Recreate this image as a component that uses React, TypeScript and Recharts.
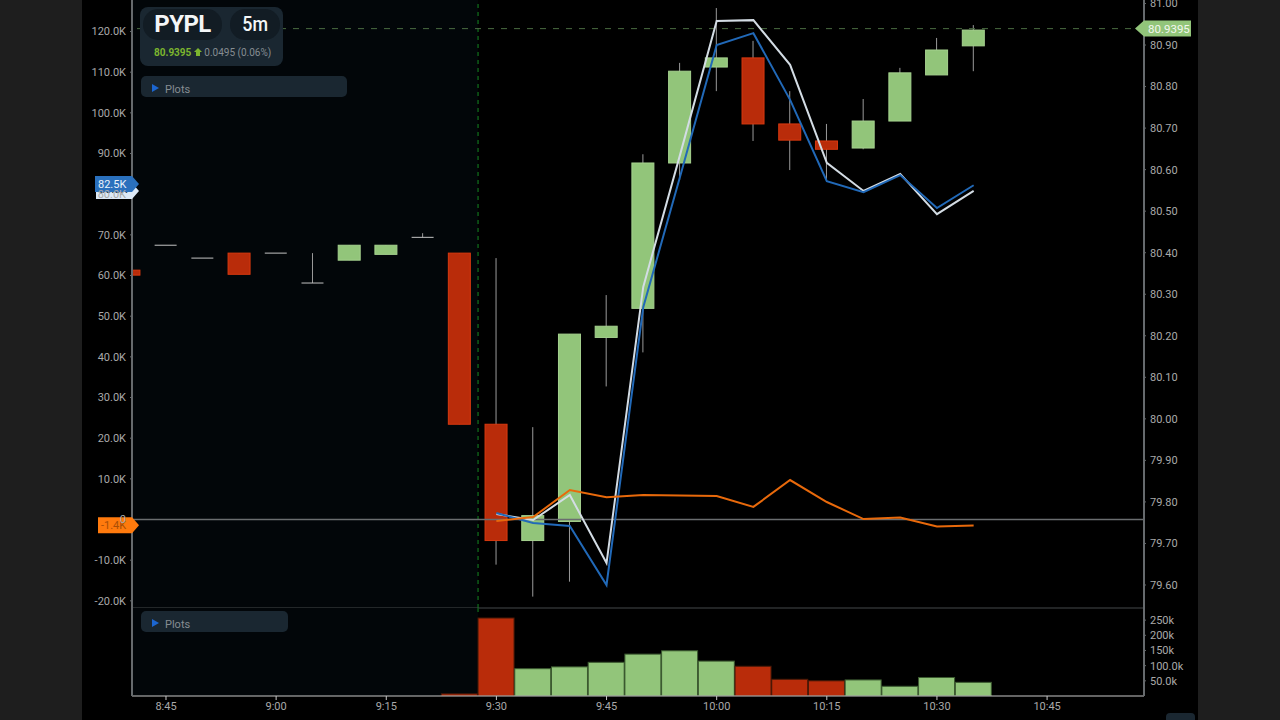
import {
  Bar,
  ComposedChart,
  Line,
  ReferenceArea,
  ReferenceDot,
  ReferenceLine,
  XAxis,
  YAxis,
} from "recharts";

// minutes since midnight for each 5m candle, 8:40 to 10:35
const times = [
  520, 525, 530, 535, 540, 545, 550, 555, 560, 565, 570, 575, 580, 585, 590, 595, 600, 605, 610,
  615, 620, 625, 630, 635,
];
const opens = [
  80.358, 80.418, 80.387, 80.399, 80.399, 80.327, 80.382, 80.396, 80.437, 80.399, 79.987, 79.707,
  79.753, 80.196, 80.266, 80.616, 80.847, 80.869, 80.71, 80.669, 80.652, 80.717, 80.828, 80.898,
];
const closes = [
  80.346, 80.418, 80.387, 80.348, 80.399, 80.327, 80.418, 80.418, 80.437, 79.987, 79.707, 79.767,
  80.204, 80.223, 80.616, 80.837, 80.869, 80.71, 80.671, 80.649, 80.717, 80.833, 80.888, 80.936,
];
const highs = [
  80.358, 80.418, 80.387, 80.399, 80.399, 80.399, 80.418, 80.418, 80.447, 80.399, 80.387, 79.98,
  80.204, 80.298, 80.637, 80.857, 80.989, 80.91, 80.789, 80.71, 80.77, 80.845, 80.917, 80.948,
];
const lows = [
  80.346, 80.418, 80.387, 80.348, 80.399, 80.327, 80.382, 80.396, 80.437, 79.987, 79.649, 79.572,
  79.608, 80.078, 80.16, 80.575, 80.789, 80.669, 80.599, 80.575, 80.649, 80.717, 80.828, 80.837,
];
const whiteLine = [
  null, null, null, null, null, null, null, null, null, null, 1.35, -0.12, 6.02, -10.7, 57.2, 89.6,
  122.6, 122.8, 111.8, 87.7, 80.8, 85.0, 75.1, 80.8,
];
const blueLine = [
  null, null, null, null, null, null, null, null, null, null, 1.6, -0.86, -1.6, -16.1, 52.2, 84.2,
  116.7, 119.6, 103.2, 83.2, 80.5, 84.7, 76.6, 82.2,
];
const orangeLine = [
  null, null, null, null, null, null, null, null, null, null, -0.37, 0.6, 7.25, 5.5, 6.0, 5.9, 5.8,
  3.1, 9.7, 4.3, 0.1, 0.5, -1.7, -1.5,
];
const volumes = [
  null, null, null, null, null, null, null, null, null, 7, 257, 90, 96, 111, 138, 149, 115, 98, 55,
  50, 53, 32, 61, 45,
];

const leftTicks = [120, 110, 100, 90, 80, 70, 60, 50, 40, 30, 20, 10, 0, -10, -20];
const rightTicks = [
  81, 80.9, 80.8, 80.7, 80.6, 80.5, 80.4, 80.3, 80.2, 80.1, 80, 79.9, 79.8, 79.7, 79.6,
];
const volumeTicks = [250, 200, 150, 100, 50];
const timeTicks = [525, 540, 555, 570, 585, 600, 615, 630, 645];

const lastPrice = 80.9395;
const marketOpen = 567.5;
const xMin = 520.37;
const xMax = 658.2;

const GREEN = "#92c57a";
const RED = "#b92c0a";
const AXIS = "#666a6d";
const TICK = "#a9a9a9";
const PREMARKET = "#020609";
const PANEL = "#1a2731";
const PILL = "#121c24";

const rows = times.map((t, i) => ({
  t,
  open: opens[i],
  close: closes[i],
  range: [lows[i], highs[i]],
  white: whiteLine[i],
  blue: blueLine[i],
  orange: orangeLine[i],
  volume: volumes[i],
}));

function Candle(props: any) {
  const { x, y, width, height, payload } = props;
  const hi = payload.range[1];
  const lo = payload.range[0];
  const span = hi - lo || 1;
  const mid = x + width / 2;
  const up = payload.close >= payload.open;
  const top = y + ((hi - Math.max(payload.open, payload.close)) / span) * height;
  const bottom = y + ((hi - Math.min(payload.open, payload.close)) / span) * height;
  const doji = payload.close === payload.open;
  return (
    <g>
      <line x1={mid} x2={mid} y1={y} y2={y + height} stroke="#9a9a9a" strokeWidth={1} />
      {doji ? (
        <line x1={x} x2={x + width} y1={top} y2={top} stroke="#c4c4c4" strokeWidth={1} />
      ) : (
        <rect
          x={x}
          y={top}
          width={width}
          height={bottom - top}
          fill={up ? GREEN : RED}
          stroke={up ? "#a6d28f" : "#d9390f"}
          strokeWidth={1}
        />
      )}
    </g>
  );
}

function VolumeBar(props: any) {
  const { x, y, width, height, payload } = props;
  const down = payload.close < payload.open;
  return (
    <rect
      x={x}
      y={y}
      width={width}
      height={height}
      fill={down ? RED : GREEN}
      stroke={down ? "#4a1a08" : "#3c5a30"}
      strokeWidth={1}
    />
  );
}

function leftTag(fill: string, color: string, label: string, x0: number, textDy: number) {
  return (props: any) => {
    const { cx, cy } = props;
    return (
      <g>
        <path
          d={`M${x0} ${cy - 8} H${cx} L${cx + 7} ${cy} L${cx} ${cy + 8} H${x0} Z`}
          fill={fill}
        />
        <text x={x0 + 3} y={cy + textDy} fontSize={11} fontFamily="Roboto" fill={color}>
          {label}
        </text>
      </g>
    );
  };
}

function PriceTag(props: any) {
  const { cx, cy } = props;
  return (
    <g>
      <path d={`M${cx - 9} ${cy} L${cx} ${cy - 8} H${cx + 47} V${cy + 8} H${cx} Z`} fill={GREEN} />
      <text x={cx + 4} y={cy + 4} fontSize={11.5} fontFamily="Roboto" fill="#f2f7ee">
        {lastPrice}
      </text>
    </g>
  );
}

function PlotsBar({ top, width }: { top: number; width: number }) {
  return (
    <div
      style={{
        position: "absolute",
        left: 141,
        top,
        width,
        height: 21,
        background: PANEL,
        borderRadius: 5,
      }}
    >
      <svg style={{ position: "absolute", left: 11, top: 8 }} width="7" height="8">
        <path d="M0 0 L7 4 L0 8 Z" fill="#1c66d0" />
      </svg>
      <span style={{ position: "absolute", left: 24, top: 7, fontSize: 11, color: "#868d92" }}>
        Plots
      </span>
    </div>
  );
}

export default function App() {
  return (
    <div
      style={{
        position: "absolute",
        left: 0,
        top: 0,
        width: 1280,
        height: 720,
        background: "#1e1e1e",
        overflow: "hidden",
        fontFamily: "Roboto, sans-serif",
      }}
    >
      <div style={{ position: "absolute", left: 82, top: 0, width: 1116, height: 720, background: "#000" }} />

      <div style={{ position: "absolute", left: 0, top: 0 }}>
        <ComposedChart
          width={1280}
          height={609}
          data={rows}
          margin={{ top: 0, right: 0, bottom: 0, left: 0 }}
        >
          <XAxis
            dataKey="t"
            type="number"
            scale="linear"
            domain={[xMin, xMax]}
            allowDataOverflow
            ticks={timeTicks}
            tick={false}
            tickLine={false}
            height={1}
            axisLine={{ stroke: "#45484a" }}
          />
          <YAxis
            yAxisId="left"
            orientation="left"
            width={132}
            type="number"
            domain={[-21.76, 127.75]}
            allowDataOverflow
            ticks={leftTicks}
            interval={0}
            tickFormatter={(v: number) => (v === 0 ? "0" : `${v.toFixed(1)}K`)}
            tick={{ fill: TICK, fontSize: 11, fontFamily: "Roboto" }}
            tickSize={2}
            tickMargin={4}
            tickLine={{ stroke: AXIS }}
            axisLine={{ stroke: AXIS, strokeWidth: 2 }}
          />
          <YAxis
            yAxisId="right"
            orientation="right"
            width={136}
            type="number"
            domain={[79.5446, 81.0084]}
            allowDataOverflow
            ticks={rightTicks}
            interval={0}
            tickFormatter={(v: number) => v.toFixed(2)}
            tick={{ fill: TICK, fontSize: 11, fontFamily: "Roboto" }}
            tickSize={2}
            tickMargin={4}
            tickLine={{ stroke: AXIS }}
            axisLine={{ stroke: AXIS, strokeWidth: 2 }}
          />
          <ReferenceArea
            yAxisId="left"
            x1={xMin}
            x2={marketOpen}
            fill={PREMARKET}
            fillOpacity={1}
            stroke="none"
          />
          <ReferenceLine
            yAxisId="left"
            x={marketOpen}
            stroke="#0e5c18"
            strokeWidth={1.5}
            strokeDasharray="4 4"
          />
          <ReferenceLine
            yAxisId="right"
            y={lastPrice}
            stroke="#4a6b40"
            strokeDasharray="6 7"
          />
          <ReferenceLine yAxisId="left" y={0} stroke="#6a6d6f" strokeWidth={1.5} />
          <Bar
            yAxisId="right"
            dataKey="range"
            barSize={22}
            shape={Candle}
            isAnimationActive={false}
          />
          <Line
            yAxisId="left"
            dataKey="white"
            stroke="#d3dce4"
            strokeWidth={2}
            dot={false}
            isAnimationActive={false}
          />
          <Line
            yAxisId="left"
            dataKey="blue"
            stroke="#2169b8"
            strokeWidth={2}
            dot={false}
            isAnimationActive={false}
          />
          <Line
            yAxisId="left"
            dataKey="orange"
            stroke="#e8690b"
            strokeWidth={2}
            dot={false}
            isAnimationActive={false}
          />
          <ReferenceDot
            yAxisId="left"
            x={xMin}
            y={80.8}
            ifOverflow="visible"
            shape={leftTag("#dce9f7", "#20303c", "80.8K", 96, 2)}
          />
          <ReferenceDot
            yAxisId="left"
            x={xMin}
            y={82.5}
            ifOverflow="visible"
            shape={leftTag("#2a70bd", "#eaf2fa", "82.5K", 95, 4)}
          />
          <ReferenceDot
            yAxisId="left"
            x={xMin}
            y={-1.4}
            ifOverflow="visible"
            shape={leftTag("#ff7a0d", "#a84e06", "-1.4K", 98, 4)}
          />
          <ReferenceDot
            yAxisId="right"
            x={xMax}
            y={lastPrice}
            ifOverflow="visible"
            shape={PriceTag}
          />
        </ComposedChart>
      </div>

      <div style={{ position: "absolute", left: 0, top: 608 }}>
        <ComposedChart
          width={1280}
          height={112}
          data={rows}
          margin={{ top: 0, right: 0, bottom: 0, left: 0 }}
        >
          <XAxis
            dataKey="t"
            type="number"
            scale="linear"
            domain={[xMin, xMax]}
            allowDataOverflow
            ticks={timeTicks}
            interval={0}
            height={24}
            tickFormatter={(v: number) =>
              `${Math.floor(v / 60)}:${String(v % 60).padStart(2, "0")}`
            }
            tick={{ fill: TICK, fontSize: 11, fontFamily: "Roboto" }}
            tickSize={4}
            tickMargin={2}
            tickLine={{ stroke: "#c8c8c8" }}
            axisLine={{ stroke: "#c8c8c8" }}
          />
          <YAxis
            yAxisId="blank"
            orientation="left"
            width={132}
            domain={[0, 1]}
            tick={false}
            tickLine={false}
            axisLine={{ stroke: AXIS, strokeWidth: 2 }}
          />
          <YAxis
            yAxisId="vol"
            orientation="right"
            width={136}
            type="number"
            domain={[0, 290]}
            allowDataOverflow
            ticks={volumeTicks}
            interval={0}
            tickFormatter={(v: number) => (v >= 150 ? `${v}k` : `${v.toFixed(1)}k`)}
            tick={{ fill: TICK, fontSize: 11, fontFamily: "Roboto" }}
            tickSize={2}
            tickMargin={4}
            tickLine={{ stroke: AXIS }}
            axisLine={{ stroke: AXIS, strokeWidth: 2 }}
          />
          <ReferenceArea
            yAxisId="vol"
            x1={xMin}
            x2={marketOpen}
            fill={PREMARKET}
            fillOpacity={1}
            stroke="none"
          />
          <ReferenceLine
            yAxisId="vol"
            segment={[
              { x: marketOpen, y: 290 },
              { x: marketOpen, y: 265 },
            ]}
            stroke="#0e5c18"
            strokeWidth={1.5}
            strokeDasharray="4 4"
          />
          <Bar
            yAxisId="vol"
            dataKey="volume"
            barSize={36}
            shape={VolumeBar}
            isAnimationActive={false}
          />
        </ComposedChart>
      </div>

      <div
        style={{
          position: "absolute",
          left: 140,
          top: 7,
          width: 143,
          height: 59,
          background: PANEL,
          borderRadius: 8,
        }}
      >
        <div
          style={{
            position: "absolute",
            left: 3,
            top: 2,
            width: 79,
            height: 31,
            borderRadius: 15,
            background: PILL,
            color: "#f4f6f7",
            fontSize: 24,
            fontWeight: 700,
            lineHeight: "31px",
            textAlign: "center",
            letterSpacing: -0.6,
          }}
        >
          PYPL
        </div>
        <div
          style={{
            position: "absolute",
            left: 90,
            top: 2,
            width: 50,
            height: 31,
            borderRadius: 15,
            background: PILL,
            color: "#f4f6f7",
            lineHeight: "31px",
            textAlign: "center",
          }}
        >
          <span
            style={{
              display: "inline-block",
              fontSize: 21,
              fontWeight: 500,
              transform: "scaleX(0.85)",
            }}
          >
            5m
          </span>
        </div>
        <div
          style={{
            position: "absolute",
            left: 14,
            top: 40,
            fontSize: 10,
            whiteSpace: "nowrap",
            color: "#868d92",
          }}
        >
          <span style={{ color: "#7cb52e", fontWeight: 700 }}>{lastPrice}</span>
          <svg width="8" height="8" style={{ margin: "0 2px 0 3px" }}>
            <path d="M4 0 L8 4 H6 V8 H2 V4 H0 Z" fill="#7cb52e" />
          </svg>
          0.0495 (0.06%)
        </div>
      </div>

      <PlotsBar top={76} width={206} />
      <PlotsBar top={611} width={147} />

      <div
        style={{
          position: "absolute",
          left: 1166,
          top: 713,
          width: 29,
          height: 8,
          background: PANEL,
          borderRadius: "4px 4px 0 0",
        }}
      />
    </div>
  );
}
